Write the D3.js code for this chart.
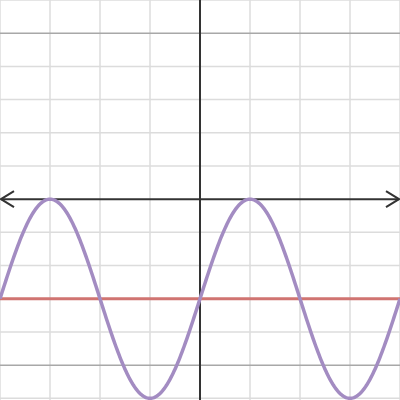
<!DOCTYPE html>
<html lang="en">
<head>
  <meta charset="UTF-8">
  <script src="https://d3js.org/d3.v7.min.js"></script>
  <style>body{margin:0;background:#fff}</style>
</head>
<body>
  <svg style="width:400px;height:400px;display:block"></svg>
  <script>
    // grid
    const xGrid = [-4, -3, -2, -1, 1, 2, 3, 4];
    const yGridMinor = [-6, -4, -3, -2, -1, 1, 2, 3, 4, 6];
    const yGridMajor = [-5, 5];
    // y = amp * sin(2π x / period) + offset
    const sineParams = { amp: 3, period: 4, offset: -3 };
    const redLineY = [-3];

    const W = 400, H = 400;
    const x = d3.scaleLinear().domain([-4, 4]).range([0, W]);
    const y = d3.scaleLinear().domain([-6.05, 6]).range([H, 0]);
    const svg = d3.select("svg");

    svg.selectAll("line.vg").data(xGrid).enter().append("line")
      .attr("x1", d => x(d)).attr("x2", d => x(d)).attr("y1", 0).attr("y2", H)
      .style("stroke", "#dcdcdc").style("stroke-width", "1.5px");
    svg.selectAll("line.hg").data(yGridMinor).enter().append("line")
      .attr("x1", 0).attr("x2", W).attr("y1", d => y(d)).attr("y2", d => y(d))
      .style("stroke", "#dcdcdc").style("stroke-width", "1.5px");
    svg.selectAll("line.hm").data(yGridMajor).enter().append("line")
      .attr("x1", 0).attr("x2", W).attr("y1", d => y(d)).attr("y2", d => y(d))
      .style("stroke", "#a8a8a8").style("stroke-width", "1.5px");

    // axes
    svg.append("line").attr("x1", x(0)).attr("x2", x(0)).attr("y1", 0).attr("y2", H)
      .style("stroke", "#333").style("stroke-width", "2px");
    svg.append("line").attr("x1", 1).attr("x2", W - 1).attr("y1", y(0)).attr("y2", y(0))
      .style("stroke", "#333").style("stroke-width", "2px");
    const y0 = y(0);
    svg.append("path").attr("d", `M14,${y0 - 8} L1,${y0} L14,${y0 + 8}`)
      .style("fill", "none").style("stroke", "#333").style("stroke-width", "2px");
    svg.append("path").attr("d", `M${W - 14},${y0 - 8} L${W - 1},${y0} L${W - 14},${y0 + 8}`)
      .style("fill", "none").style("stroke", "#333").style("stroke-width", "2px");

    // red line
    svg.selectAll("line.red").data(redLineY).enter().append("line")
      .attr("x1", 0).attr("x2", W).attr("y1", d => y(d)).attr("y2", d => y(d))
      .style("stroke", "#d07471").style("stroke-width", "3px");

    // sine curve
    const p = sineParams;
    const pts = d3.range(-4, 4.001, 0.02).map(t => [t, p.amp * Math.sin(2 * Math.PI * t / p.period) + p.offset]);
    svg.append("path").datum(pts)
      .attr("d", d3.line().x(d => x(d[0])).y(d => y(d[1])))
      .style("fill", "none").style("stroke", "#a38cc2").style("stroke-width", "3.5px");
  </script>
</body>
</html>
